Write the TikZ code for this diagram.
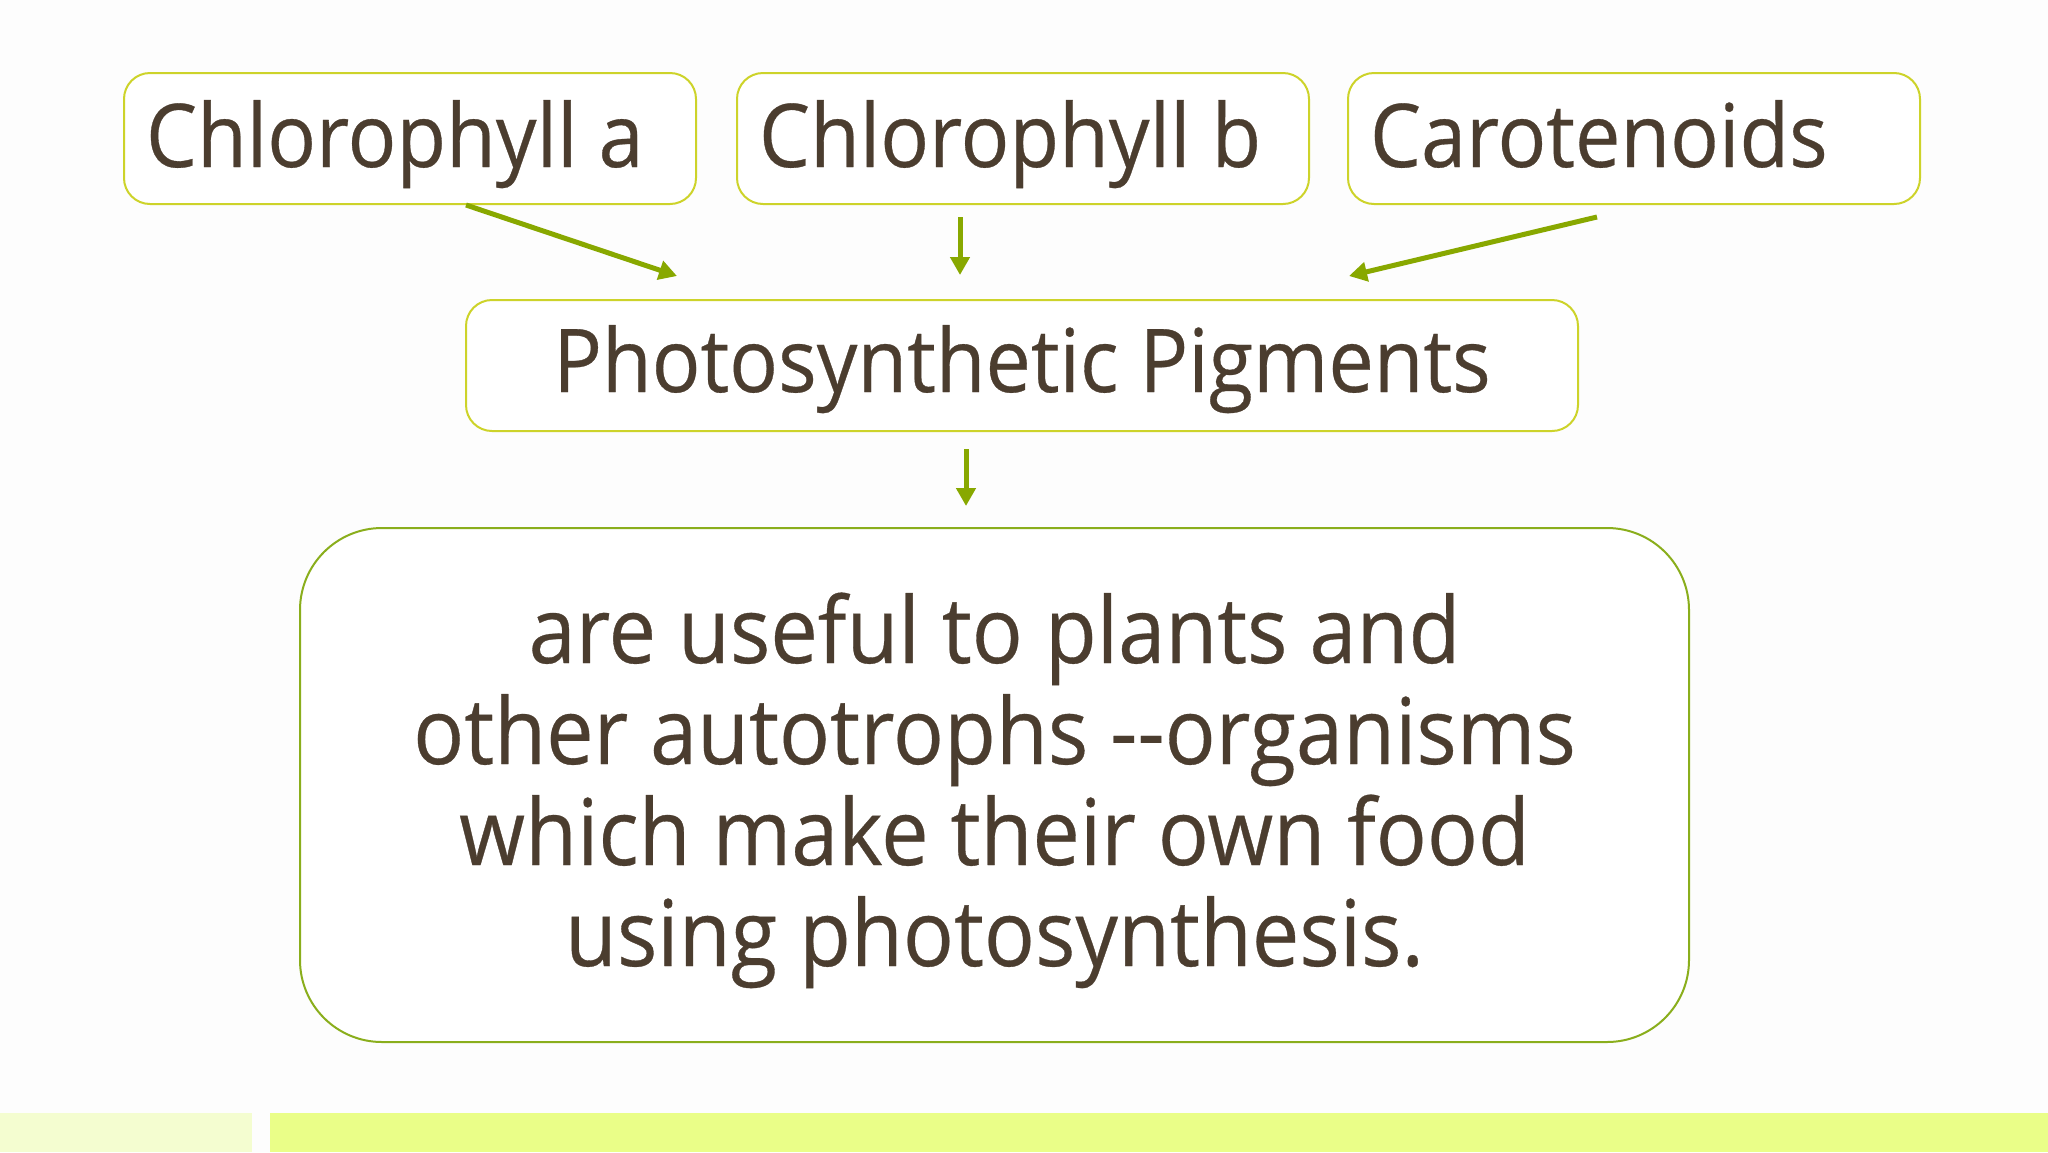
\documentclass[tikz,border=0pt]{standalone}
\usepackage{fontspec}
\setmainfont{Open Sans}[FakeStretch=0.92, FakeBold=0.35]
\usetikzlibrary{arrows.meta}
\definecolor{txt}{HTML}{4B3D2F}
\definecolor{boxline}{HTML}{CDD32A}
\definecolor{bigline}{HTML}{8AAE1C}
\definecolor{arr}{HTML}{88A800}
\definecolor{stripA}{HTML}{F4FDD0}
\definecolor{stripB}{HTML}{EAFE88}
\definecolor{bg}{HTML}{FDFDFD}
\tikzset{
  topbox/.style={draw=boxline, line width=2pt, rounded corners=26pt, fill=white,
    minimum width=572pt, minimum height=131pt, text width=528pt, align=flush left,
    inner sep=0pt, font=\fontsize{88}{100}\selectfont, text=txt,
    text height=57pt, text depth=0pt},
  midbox/.style={draw=boxline, line width=2pt, rounded corners=26pt, fill=white,
    minimum width=1112pt, minimum height=131pt, align=center,
    inner sep=0pt, font=\fontsize{88}{100}\selectfont, text=txt,
    text height=53pt, text depth=0pt},
  bigbox/.style={draw=bigline, line width=2pt, rounded corners=82pt, fill=white,
    minimum width=1389pt, minimum height=514pt, align=center,
    inner sep=0pt, font=\fontsize{92}{101}\selectfont, text=txt,
    text height=380pt, text depth=18pt},
  flow/.style={draw=arr, line width=5pt, -{Triangle[length=18pt,width=19pt]}},
}
\begin{document}
\begin{tikzpicture}[x=1pt,y=-1pt]
\fill[bg] (0,0) rectangle (2048,1152);
\useasboundingbox (0,0) rectangle (2048,1152);
\fill[stripA] (0,1113) rectangle (252,1152);
\fill[stripB] (270,1113) rectangle (2048,1152);

\node[topbox] (b1) at (410,138.5) {Chlorophyll a};
\node[topbox] (b2) at (1023,138.5) {Chlorophyll b};
\node[topbox] (b3) at (1634,138.5) {Carotenoids};
\node[midbox] (mid) at (1022,365.5) {Photosynthetic Pigments};
\node[bigbox] (big) at (994.5,785) {are useful to plants and\\other autotrophs \mbox{-}\mbox{-}organisms\\which make their own food\\using photosynthesis.};

\draw[flow] ([xshift=56pt]b1.south) -- ([xshift=-345pt,yshift=23pt]mid.north);
\draw[flow] ([xshift=-63pt,yshift=-12pt]b2.south) -- ([xshift=-62pt,yshift=24pt]mid.north);
\draw[flow] ([xshift=-37pt,yshift=-12pt]b3.south) -- ([xshift=327pt,yshift=23pt]mid.north);
\draw[flow] ([xshift=-56pt,yshift=-17pt]mid.south) -- ([xshift=-28.5pt,yshift=21pt]big.north);
\end{tikzpicture}
\end{document}
